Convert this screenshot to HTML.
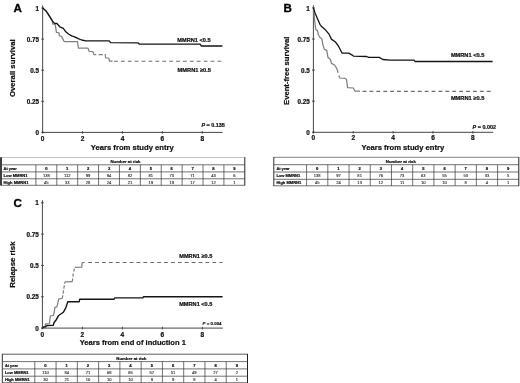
<!DOCTYPE html>
<html><head><meta charset="utf-8"><title>Figure</title>
<style>
html,body{margin:0;padding:0;background:#fff;}
body{width:520px;height:383px;overflow:hidden;}
svg{display:block;font-family:'Liberation Sans', Arial, Helvetica, sans-serif;}
</style></head>
<body>
<svg width="520" height="383" viewBox="0 0 520 383">
<rect x="0" y="0" width="520" height="383" fill="#fff"/>
<line x1="42.65" y1="5.40" x2="42.65" y2="132.90" stroke="#3c3c3c" stroke-width="0.95"/>
<line x1="42.15" y1="132.40" x2="222.70" y2="132.40" stroke="#3c3c3c" stroke-width="0.95"/>
<line x1="41.25" y1="132.40" x2="44.05" y2="132.40" stroke="#3c3c3c" stroke-width="0.9"/>
<text x="39.05" y="135.00" font-size="6.3" text-anchor="end" font-weight="bold" fill="#111" stroke="#111" stroke-width="0.22">0</text>
<line x1="41.25" y1="101.30" x2="44.05" y2="101.30" stroke="#3c3c3c" stroke-width="0.9"/>
<text x="39.05" y="103.90" font-size="6.3" text-anchor="end" font-weight="bold" fill="#111" stroke="#111" stroke-width="0.22">0.25</text>
<line x1="41.25" y1="70.20" x2="44.05" y2="70.20" stroke="#3c3c3c" stroke-width="0.9"/>
<text x="39.05" y="72.80" font-size="6.3" text-anchor="end" font-weight="bold" fill="#111" stroke="#111" stroke-width="0.22">0.5</text>
<line x1="41.25" y1="39.10" x2="44.05" y2="39.10" stroke="#3c3c3c" stroke-width="0.9"/>
<text x="39.05" y="41.70" font-size="6.3" text-anchor="end" font-weight="bold" fill="#111" stroke="#111" stroke-width="0.22">0.75</text>
<line x1="41.25" y1="8.00" x2="44.05" y2="8.00" stroke="#3c3c3c" stroke-width="0.9"/>
<text x="39.05" y="10.60" font-size="6.3" text-anchor="end" font-weight="bold" fill="#111" stroke="#111" stroke-width="0.22">1</text>
<line x1="42.65" y1="131.10" x2="42.65" y2="133.70" stroke="#3c3c3c" stroke-width="0.9"/>
<text x="42.65" y="140.90" font-size="6.5" text-anchor="middle" font-weight="bold" fill="#111" stroke="#111" stroke-width="0.22">0</text>
<line x1="82.55" y1="131.10" x2="82.55" y2="133.70" stroke="#3c3c3c" stroke-width="0.9"/>
<text x="82.55" y="140.90" font-size="6.5" text-anchor="middle" font-weight="bold" fill="#111" stroke="#111" stroke-width="0.22">2</text>
<line x1="122.45" y1="131.10" x2="122.45" y2="133.70" stroke="#3c3c3c" stroke-width="0.9"/>
<text x="122.45" y="140.90" font-size="6.5" text-anchor="middle" font-weight="bold" fill="#111" stroke="#111" stroke-width="0.22">4</text>
<line x1="162.35" y1="131.10" x2="162.35" y2="133.70" stroke="#3c3c3c" stroke-width="0.9"/>
<text x="162.35" y="140.90" font-size="6.5" text-anchor="middle" font-weight="bold" fill="#111" stroke="#111" stroke-width="0.22">6</text>
<line x1="202.25" y1="131.10" x2="202.25" y2="133.70" stroke="#3c3c3c" stroke-width="0.9"/>
<text x="202.25" y="140.90" font-size="6.5" text-anchor="middle" font-weight="bold" fill="#111" stroke="#111" stroke-width="0.22">8</text>
<text x="13.60" y="12.20" font-size="10.8" text-anchor="start" font-weight="bold" fill="#000" stroke="#000" stroke-width="0.3" textLength="8.4" lengthAdjust="spacingAndGlyphs">A</text>
<text x="15.50" y="68.20" font-size="7.7" text-anchor="middle" font-weight="bold" fill="#111" stroke="#111" stroke-width="0.22" textLength="57.8" lengthAdjust="spacingAndGlyphs" transform="rotate(-90 15.50 68.20)">Overall survival</text>
<text x="132.30" y="149.80" font-size="7.7" text-anchor="middle" font-weight="bold" fill="#111" stroke="#111" stroke-width="0.22" textLength="83.0" lengthAdjust="spacingAndGlyphs">Years from study entry</text>
<polyline points="42.6,7.9 45.5,10.4 47.4,12.9 49.9,16.9 52.4,21.2 52.6,24.0 55.2,24.3 55.9,28.8 56.4,32.4 59.0,32.8 59.4,35.9 61.5,36.3 62.5,38.4 64.0,41.3 64.9,41.7 77.5,41.7 78.4,48.1 88.0,48.2 89.1,51.3 92.8,51.5 93.9,54.6 96.2,54.7" fill="none" stroke="#808080" stroke-width="1.25" stroke-linejoin="round"/>
<line x1="98.60" y1="54.60" x2="103.00" y2="54.60" stroke="#808080" stroke-width="1.25"/>
<polyline points="104.6,54.5 105.3,54.5 105.6,57.8 108.7,58.0 109.5,61.2 112.5,61.2" fill="none" stroke="#808080" stroke-width="1.25" stroke-linejoin="round"/>
<line x1="114.00" y1="61.25" x2="222.40" y2="61.25" stroke="#6c6c6c" stroke-width="1.15" stroke-dasharray="3.8 3.1"/>
<polyline points="42.6,7.9 45.5,10.4 47.4,12.9 49.9,16.9 52.4,20.9 54.4,23.3 56.9,23.5 59.8,26.8 63.3,28.3 65.8,31.8 68.8,34.3 71.7,35.9 74.7,36.9 78.2,38.7 81.7,40.0 85.8,40.9 109.2,40.9 110.6,42.7 138.2,42.8 139.2,44.2 200.0,44.2 201.4,46.0 222.4,46.0" fill="none" stroke="#151515" stroke-width="1.3" stroke-linejoin="round"/>
<text x="177.30" y="41.60" font-size="5.7" text-anchor="start" font-weight="bold" fill="#111" stroke="#111" stroke-width="0.22" textLength="33.4" lengthAdjust="spacingAndGlyphs">MMRN1 &lt;0.5</text>
<text x="177.60" y="71.80" font-size="5.7" text-anchor="start" font-weight="bold" fill="#111" stroke="#111" stroke-width="0.22" textLength="33.4" lengthAdjust="spacingAndGlyphs">MMRN1 ≥0.5</text>
<text x="201.4" y="127.2" font-size="5.45" font-weight="bold" fill="#111" stroke="#111" stroke-width="0.2"><tspan font-style="italic">P</tspan> = 0.135</text>
<line x1="1.00" y1="157.50" x2="244.80" y2="157.50" stroke="#b4b4b4" stroke-width="0.8"/>
<line x1="1.00" y1="157.20" x2="1.00" y2="185.60" stroke="#000" stroke-width="1.5"/>
<line x1="244.80" y1="157.20" x2="244.80" y2="185.60" stroke="#222" stroke-width="1.0"/>
<line x1="1.00" y1="164.80" x2="244.80" y2="164.80" stroke="#3a3a3a" stroke-width="0.72"/>
<line x1="1.00" y1="171.90" x2="244.80" y2="171.90" stroke="#3a3a3a" stroke-width="0.72"/>
<line x1="1.00" y1="178.80" x2="244.80" y2="178.80" stroke="#3a3a3a" stroke-width="0.72"/>
<line x1="1.00" y1="185.30" x2="244.80" y2="185.30" stroke="#3a3a3a" stroke-width="0.72"/>
<line x1="35.90" y1="164.80" x2="35.90" y2="185.30" stroke="#3a3a3a" stroke-width="0.72"/>
<line x1="56.79" y1="164.80" x2="56.79" y2="185.30" stroke="#3a3a3a" stroke-width="0.72"/>
<line x1="77.68" y1="164.80" x2="77.68" y2="185.30" stroke="#3a3a3a" stroke-width="0.72"/>
<line x1="98.57" y1="164.80" x2="98.57" y2="185.30" stroke="#3a3a3a" stroke-width="0.72"/>
<line x1="119.46" y1="164.80" x2="119.46" y2="185.30" stroke="#3a3a3a" stroke-width="0.72"/>
<line x1="140.35" y1="164.80" x2="140.35" y2="185.30" stroke="#3a3a3a" stroke-width="0.72"/>
<line x1="161.24" y1="164.80" x2="161.24" y2="185.30" stroke="#3a3a3a" stroke-width="0.72"/>
<line x1="182.13" y1="164.80" x2="182.13" y2="185.30" stroke="#3a3a3a" stroke-width="0.72"/>
<line x1="203.02" y1="164.80" x2="203.02" y2="185.30" stroke="#3a3a3a" stroke-width="0.72"/>
<line x1="223.91" y1="164.80" x2="223.91" y2="185.30" stroke="#3a3a3a" stroke-width="0.72"/>
<text x="125.50" y="162.80" font-size="4.3" text-anchor="middle" font-weight="bold" fill="#111" stroke="#111" stroke-width="0.22" textLength="30.0" lengthAdjust="spacingAndGlyphs">Number at risk</text>
<text x="3.60" y="169.80" font-size="4.1" text-anchor="start" font-weight="bold" fill="#111" stroke="#111" stroke-width="0.22" textLength="13.2" lengthAdjust="spacingAndGlyphs">At year</text>
<text x="3.60" y="176.80" font-size="4.1" text-anchor="start" font-weight="bold" fill="#111" stroke="#111" stroke-width="0.22" textLength="23.8" lengthAdjust="spacingAndGlyphs">Low MMRN1</text>
<text x="3.60" y="183.50" font-size="4.1" text-anchor="start" font-weight="bold" fill="#111" stroke="#111" stroke-width="0.22" textLength="24.8" lengthAdjust="spacingAndGlyphs">High MMRN1</text>
<text x="46.34" y="169.80" font-size="4.1" text-anchor="middle" font-weight="bold" fill="#111" stroke="#111" stroke-width="0.22">0</text>
<text x="46.34" y="176.80" font-size="4.1" text-anchor="middle" font-weight="normal" fill="#222" stroke="#222" stroke-width="0.1">138</text>
<text x="46.34" y="183.50" font-size="4.1" text-anchor="middle" font-weight="normal" fill="#222" stroke="#222" stroke-width="0.1">45</text>
<text x="67.23" y="169.80" font-size="4.1" text-anchor="middle" font-weight="bold" fill="#111" stroke="#111" stroke-width="0.22">1</text>
<text x="67.23" y="176.80" font-size="4.1" text-anchor="middle" font-weight="normal" fill="#222" stroke="#222" stroke-width="0.1">112</text>
<text x="67.23" y="183.50" font-size="4.1" text-anchor="middle" font-weight="normal" fill="#222" stroke="#222" stroke-width="0.1">33</text>
<text x="88.12" y="169.80" font-size="4.1" text-anchor="middle" font-weight="bold" fill="#111" stroke="#111" stroke-width="0.22">2</text>
<text x="88.12" y="176.80" font-size="4.1" text-anchor="middle" font-weight="normal" fill="#222" stroke="#222" stroke-width="0.1">99</text>
<text x="88.12" y="183.50" font-size="4.1" text-anchor="middle" font-weight="normal" fill="#222" stroke="#222" stroke-width="0.1">28</text>
<text x="109.02" y="169.80" font-size="4.1" text-anchor="middle" font-weight="bold" fill="#111" stroke="#111" stroke-width="0.22">3</text>
<text x="109.02" y="176.80" font-size="4.1" text-anchor="middle" font-weight="normal" fill="#222" stroke="#222" stroke-width="0.1">94</text>
<text x="109.02" y="183.50" font-size="4.1" text-anchor="middle" font-weight="normal" fill="#222" stroke="#222" stroke-width="0.1">24</text>
<text x="129.91" y="169.80" font-size="4.1" text-anchor="middle" font-weight="bold" fill="#111" stroke="#111" stroke-width="0.22">4</text>
<text x="129.91" y="176.80" font-size="4.1" text-anchor="middle" font-weight="normal" fill="#222" stroke="#222" stroke-width="0.1">82</text>
<text x="129.91" y="183.50" font-size="4.1" text-anchor="middle" font-weight="normal" fill="#222" stroke="#222" stroke-width="0.1">21</text>
<text x="150.80" y="169.80" font-size="4.1" text-anchor="middle" font-weight="bold" fill="#111" stroke="#111" stroke-width="0.22">5</text>
<text x="150.80" y="176.80" font-size="4.1" text-anchor="middle" font-weight="normal" fill="#222" stroke="#222" stroke-width="0.1">81</text>
<text x="150.80" y="183.50" font-size="4.1" text-anchor="middle" font-weight="normal" fill="#222" stroke="#222" stroke-width="0.1">19</text>
<text x="171.69" y="169.80" font-size="4.1" text-anchor="middle" font-weight="bold" fill="#111" stroke="#111" stroke-width="0.22">6</text>
<text x="171.69" y="176.80" font-size="4.1" text-anchor="middle" font-weight="normal" fill="#222" stroke="#222" stroke-width="0.1">73</text>
<text x="171.69" y="183.50" font-size="4.1" text-anchor="middle" font-weight="normal" fill="#222" stroke="#222" stroke-width="0.1">19</text>
<text x="192.58" y="169.80" font-size="4.1" text-anchor="middle" font-weight="bold" fill="#111" stroke="#111" stroke-width="0.22">7</text>
<text x="192.58" y="176.80" font-size="4.1" text-anchor="middle" font-weight="normal" fill="#222" stroke="#222" stroke-width="0.1">71</text>
<text x="192.58" y="183.50" font-size="4.1" text-anchor="middle" font-weight="normal" fill="#222" stroke="#222" stroke-width="0.1">17</text>
<text x="213.47" y="169.80" font-size="4.1" text-anchor="middle" font-weight="bold" fill="#111" stroke="#111" stroke-width="0.22">8</text>
<text x="213.47" y="176.80" font-size="4.1" text-anchor="middle" font-weight="normal" fill="#222" stroke="#222" stroke-width="0.1">43</text>
<text x="213.47" y="183.50" font-size="4.1" text-anchor="middle" font-weight="normal" fill="#222" stroke="#222" stroke-width="0.1">12</text>
<text x="234.36" y="169.80" font-size="4.1" text-anchor="middle" font-weight="bold" fill="#111" stroke="#111" stroke-width="0.22">9</text>
<text x="234.36" y="176.80" font-size="4.1" text-anchor="middle" font-weight="normal" fill="#222" stroke="#222" stroke-width="0.1">6</text>
<text x="234.36" y="183.50" font-size="4.1" text-anchor="middle" font-weight="normal" fill="#222" stroke="#222" stroke-width="0.1">1</text>
<line x1="313.40" y1="5.30" x2="313.40" y2="132.80" stroke="#3c3c3c" stroke-width="0.95"/>
<line x1="312.90" y1="132.30" x2="493.27" y2="132.30" stroke="#3c3c3c" stroke-width="0.95"/>
<line x1="312.00" y1="132.30" x2="314.80" y2="132.30" stroke="#3c3c3c" stroke-width="0.9"/>
<text x="309.80" y="134.90" font-size="6.3" text-anchor="end" font-weight="bold" fill="#111" stroke="#111" stroke-width="0.22">0</text>
<line x1="312.00" y1="101.20" x2="314.80" y2="101.20" stroke="#3c3c3c" stroke-width="0.9"/>
<text x="309.80" y="103.80" font-size="6.3" text-anchor="end" font-weight="bold" fill="#111" stroke="#111" stroke-width="0.22">0.25</text>
<line x1="312.00" y1="70.10" x2="314.80" y2="70.10" stroke="#3c3c3c" stroke-width="0.9"/>
<text x="309.80" y="72.70" font-size="6.3" text-anchor="end" font-weight="bold" fill="#111" stroke="#111" stroke-width="0.22">0.5</text>
<line x1="312.00" y1="39.00" x2="314.80" y2="39.00" stroke="#3c3c3c" stroke-width="0.9"/>
<text x="309.80" y="41.60" font-size="6.3" text-anchor="end" font-weight="bold" fill="#111" stroke="#111" stroke-width="0.22">0.75</text>
<line x1="312.00" y1="7.90" x2="314.80" y2="7.90" stroke="#3c3c3c" stroke-width="0.9"/>
<text x="309.80" y="10.50" font-size="6.3" text-anchor="end" font-weight="bold" fill="#111" stroke="#111" stroke-width="0.22">1</text>
<line x1="313.40" y1="131.00" x2="313.40" y2="133.60" stroke="#3c3c3c" stroke-width="0.9"/>
<text x="313.40" y="140.40" font-size="6.5" text-anchor="middle" font-weight="bold" fill="#111" stroke="#111" stroke-width="0.22">0</text>
<line x1="353.26" y1="131.00" x2="353.26" y2="133.60" stroke="#3c3c3c" stroke-width="0.9"/>
<text x="353.26" y="140.40" font-size="6.5" text-anchor="middle" font-weight="bold" fill="#111" stroke="#111" stroke-width="0.22">2</text>
<line x1="393.12" y1="131.00" x2="393.12" y2="133.60" stroke="#3c3c3c" stroke-width="0.9"/>
<text x="393.12" y="140.40" font-size="6.5" text-anchor="middle" font-weight="bold" fill="#111" stroke="#111" stroke-width="0.22">4</text>
<line x1="432.98" y1="131.00" x2="432.98" y2="133.60" stroke="#3c3c3c" stroke-width="0.9"/>
<text x="432.98" y="140.40" font-size="6.5" text-anchor="middle" font-weight="bold" fill="#111" stroke="#111" stroke-width="0.22">6</text>
<line x1="472.84" y1="131.00" x2="472.84" y2="133.60" stroke="#3c3c3c" stroke-width="0.9"/>
<text x="472.84" y="140.40" font-size="6.5" text-anchor="middle" font-weight="bold" fill="#111" stroke="#111" stroke-width="0.22">8</text>
<text x="283.60" y="12.20" font-size="10.8" text-anchor="start" font-weight="bold" fill="#000" stroke="#000" stroke-width="0.3" textLength="8.4" lengthAdjust="spacingAndGlyphs">B</text>
<text x="289.20" y="70.70" font-size="7.7" text-anchor="middle" font-weight="bold" fill="#111" stroke="#111" stroke-width="0.22" textLength="68.4" lengthAdjust="spacingAndGlyphs" transform="rotate(-90 289.20 70.70)">Event-free survival</text>
<text x="402.90" y="149.80" font-size="7.7" text-anchor="middle" font-weight="bold" fill="#111" stroke="#111" stroke-width="0.22" textLength="82.6" lengthAdjust="spacingAndGlyphs">Years from study entry</text>
<polyline points="313.6,8.5 314.5,18.9 315.5,27.8 316.0,29.8 317.4,30.3 318.4,34.8 319.8,37.2 322.0,39.1 322.8,44.6 324.4,49.4 326.8,50.4 327.9,57.2 330.4,59.5 331.5,63.4 334.6,65.0 336.9,68.9 338.2,72.8" fill="none" stroke="#808080" stroke-width="1.25" stroke-linejoin="round"/>
<polyline points="338.7,75.6 340.0,78.0 344.8,78.3 346.4,79.2 347.6,87.7 353.4,88.0 355.0,91.2 360.0,91.2" fill="none" stroke="#808080" stroke-width="1.25" stroke-linejoin="round"/>
<line x1="362.60" y1="91.30" x2="492.60" y2="91.30" stroke="#6c6c6c" stroke-width="1.15" stroke-dasharray="3.8 3.1"/>
<polyline points="313.5,7.9 315.0,12.9 317.4,18.4 319.9,24.3 321.9,26.8 325.4,29.8 328.8,33.8 331.4,39.1 335.4,42.0 338.5,46.2 342.0,53.0 348.7,53.2 351.8,54.8 353.4,56.1 366.6,56.5 368.7,57.3 379.3,57.4 382.8,59.5 390.0,60.1 414.0,60.1 415.2,61.5 492.6,61.5" fill="none" stroke="#151515" stroke-width="1.3" stroke-linejoin="round"/>
<text x="450.90" y="57.20" font-size="5.7" text-anchor="start" font-weight="bold" fill="#111" stroke="#111" stroke-width="0.22" textLength="33.4" lengthAdjust="spacingAndGlyphs">MMRN1 &lt;0.5</text>
<text x="450.90" y="99.60" font-size="5.7" text-anchor="start" font-weight="bold" fill="#111" stroke="#111" stroke-width="0.22" textLength="33.4" lengthAdjust="spacingAndGlyphs">MMRN1 ≥0.5</text>
<text x="472.6" y="129.0" font-size="5.45" font-weight="bold" fill="#111" stroke="#111" stroke-width="0.2"><tspan font-style="italic">P</tspan> = 0.002</text>
<line x1="273.80" y1="157.30" x2="518.80" y2="157.30" stroke="#666" stroke-width="0.8"/>
<line x1="273.80" y1="157.00" x2="273.80" y2="186.10" stroke="#333" stroke-width="1.0"/>
<line x1="518.80" y1="157.00" x2="518.80" y2="186.10" stroke="#222" stroke-width="1.0"/>
<line x1="273.80" y1="164.70" x2="518.80" y2="164.70" stroke="#3a3a3a" stroke-width="0.72"/>
<line x1="273.80" y1="172.00" x2="518.80" y2="172.00" stroke="#3a3a3a" stroke-width="0.72"/>
<line x1="273.80" y1="179.30" x2="518.80" y2="179.30" stroke="#3a3a3a" stroke-width="0.72"/>
<line x1="273.80" y1="185.80" x2="518.80" y2="185.80" stroke="#3a3a3a" stroke-width="0.72"/>
<line x1="306.60" y1="164.70" x2="306.60" y2="185.80" stroke="#3a3a3a" stroke-width="0.72"/>
<line x1="327.82" y1="164.70" x2="327.82" y2="185.80" stroke="#3a3a3a" stroke-width="0.72"/>
<line x1="349.04" y1="164.70" x2="349.04" y2="185.80" stroke="#3a3a3a" stroke-width="0.72"/>
<line x1="370.26" y1="164.70" x2="370.26" y2="185.80" stroke="#3a3a3a" stroke-width="0.72"/>
<line x1="391.48" y1="164.70" x2="391.48" y2="185.80" stroke="#3a3a3a" stroke-width="0.72"/>
<line x1="412.70" y1="164.70" x2="412.70" y2="185.80" stroke="#3a3a3a" stroke-width="0.72"/>
<line x1="433.92" y1="164.70" x2="433.92" y2="185.80" stroke="#3a3a3a" stroke-width="0.72"/>
<line x1="455.14" y1="164.70" x2="455.14" y2="185.80" stroke="#3a3a3a" stroke-width="0.72"/>
<line x1="476.36" y1="164.70" x2="476.36" y2="185.80" stroke="#3a3a3a" stroke-width="0.72"/>
<line x1="497.58" y1="164.70" x2="497.58" y2="185.80" stroke="#3a3a3a" stroke-width="0.72"/>
<text x="400.80" y="162.65" font-size="4.3" text-anchor="middle" font-weight="bold" fill="#111" stroke="#111" stroke-width="0.22" textLength="30.0" lengthAdjust="spacingAndGlyphs">Number at risk</text>
<text x="276.40" y="169.80" font-size="4.1" text-anchor="start" font-weight="bold" fill="#111" stroke="#111" stroke-width="0.22" textLength="13.2" lengthAdjust="spacingAndGlyphs">At year</text>
<text x="276.40" y="177.10" font-size="4.1" text-anchor="start" font-weight="bold" fill="#111" stroke="#111" stroke-width="0.22" textLength="23.8" lengthAdjust="spacingAndGlyphs">Low MMRN1</text>
<text x="276.40" y="184.00" font-size="4.1" text-anchor="start" font-weight="bold" fill="#111" stroke="#111" stroke-width="0.22" textLength="24.8" lengthAdjust="spacingAndGlyphs">High MMRN1</text>
<text x="317.21" y="169.80" font-size="4.1" text-anchor="middle" font-weight="bold" fill="#111" stroke="#111" stroke-width="0.22">0</text>
<text x="317.21" y="177.10" font-size="4.1" text-anchor="middle" font-weight="normal" fill="#222" stroke="#222" stroke-width="0.1">138</text>
<text x="317.21" y="184.00" font-size="4.1" text-anchor="middle" font-weight="normal" fill="#222" stroke="#222" stroke-width="0.1">45</text>
<text x="338.43" y="169.80" font-size="4.1" text-anchor="middle" font-weight="bold" fill="#111" stroke="#111" stroke-width="0.22">1</text>
<text x="338.43" y="177.10" font-size="4.1" text-anchor="middle" font-weight="normal" fill="#222" stroke="#222" stroke-width="0.1">97</text>
<text x="338.43" y="184.00" font-size="4.1" text-anchor="middle" font-weight="normal" fill="#222" stroke="#222" stroke-width="0.1">24</text>
<text x="359.65" y="169.80" font-size="4.1" text-anchor="middle" font-weight="bold" fill="#111" stroke="#111" stroke-width="0.22">2</text>
<text x="359.65" y="177.10" font-size="4.1" text-anchor="middle" font-weight="normal" fill="#222" stroke="#222" stroke-width="0.1">81</text>
<text x="359.65" y="184.00" font-size="4.1" text-anchor="middle" font-weight="normal" fill="#222" stroke="#222" stroke-width="0.1">13</text>
<text x="380.87" y="169.80" font-size="4.1" text-anchor="middle" font-weight="bold" fill="#111" stroke="#111" stroke-width="0.22">3</text>
<text x="380.87" y="177.10" font-size="4.1" text-anchor="middle" font-weight="normal" fill="#222" stroke="#222" stroke-width="0.1">76</text>
<text x="380.87" y="184.00" font-size="4.1" text-anchor="middle" font-weight="normal" fill="#222" stroke="#222" stroke-width="0.1">12</text>
<text x="402.09" y="169.80" font-size="4.1" text-anchor="middle" font-weight="bold" fill="#111" stroke="#111" stroke-width="0.22">4</text>
<text x="402.09" y="177.10" font-size="4.1" text-anchor="middle" font-weight="normal" fill="#222" stroke="#222" stroke-width="0.1">73</text>
<text x="402.09" y="184.00" font-size="4.1" text-anchor="middle" font-weight="normal" fill="#222" stroke="#222" stroke-width="0.1">11</text>
<text x="423.31" y="169.80" font-size="4.1" text-anchor="middle" font-weight="bold" fill="#111" stroke="#111" stroke-width="0.22">5</text>
<text x="423.31" y="177.10" font-size="4.1" text-anchor="middle" font-weight="normal" fill="#222" stroke="#222" stroke-width="0.1">63</text>
<text x="423.31" y="184.00" font-size="4.1" text-anchor="middle" font-weight="normal" fill="#222" stroke="#222" stroke-width="0.1">10</text>
<text x="444.53" y="169.80" font-size="4.1" text-anchor="middle" font-weight="bold" fill="#111" stroke="#111" stroke-width="0.22">6</text>
<text x="444.53" y="177.10" font-size="4.1" text-anchor="middle" font-weight="normal" fill="#222" stroke="#222" stroke-width="0.1">55</text>
<text x="444.53" y="184.00" font-size="4.1" text-anchor="middle" font-weight="normal" fill="#222" stroke="#222" stroke-width="0.1">10</text>
<text x="465.75" y="169.80" font-size="4.1" text-anchor="middle" font-weight="bold" fill="#111" stroke="#111" stroke-width="0.22">7</text>
<text x="465.75" y="177.10" font-size="4.1" text-anchor="middle" font-weight="normal" fill="#222" stroke="#222" stroke-width="0.1">53</text>
<text x="465.75" y="184.00" font-size="4.1" text-anchor="middle" font-weight="normal" fill="#222" stroke="#222" stroke-width="0.1">8</text>
<text x="486.97" y="169.80" font-size="4.1" text-anchor="middle" font-weight="bold" fill="#111" stroke="#111" stroke-width="0.22">8</text>
<text x="486.97" y="177.10" font-size="4.1" text-anchor="middle" font-weight="normal" fill="#222" stroke="#222" stroke-width="0.1">33</text>
<text x="486.97" y="184.00" font-size="4.1" text-anchor="middle" font-weight="normal" fill="#222" stroke="#222" stroke-width="0.1">4</text>
<text x="508.19" y="169.80" font-size="4.1" text-anchor="middle" font-weight="bold" fill="#111" stroke="#111" stroke-width="0.22">9</text>
<text x="508.19" y="177.10" font-size="4.1" text-anchor="middle" font-weight="normal" fill="#222" stroke="#222" stroke-width="0.1">5</text>
<text x="508.19" y="184.00" font-size="4.1" text-anchor="middle" font-weight="normal" fill="#222" stroke="#222" stroke-width="0.1">1</text>
<line x1="42.40" y1="200.20" x2="42.40" y2="328.60" stroke="#3c3c3c" stroke-width="0.95"/>
<line x1="41.90" y1="328.10" x2="222.90" y2="328.10" stroke="#3c3c3c" stroke-width="0.95"/>
<line x1="41.00" y1="328.10" x2="43.80" y2="328.10" stroke="#3c3c3c" stroke-width="0.9"/>
<text x="38.80" y="330.70" font-size="6.3" text-anchor="end" font-weight="bold" fill="#111" stroke="#111" stroke-width="0.22">0</text>
<line x1="41.00" y1="296.78" x2="43.80" y2="296.78" stroke="#3c3c3c" stroke-width="0.9"/>
<text x="38.80" y="299.38" font-size="6.3" text-anchor="end" font-weight="bold" fill="#111" stroke="#111" stroke-width="0.22">0.25</text>
<line x1="41.00" y1="265.45" x2="43.80" y2="265.45" stroke="#3c3c3c" stroke-width="0.9"/>
<text x="38.80" y="268.05" font-size="6.3" text-anchor="end" font-weight="bold" fill="#111" stroke="#111" stroke-width="0.22">0.5</text>
<line x1="41.00" y1="234.12" x2="43.80" y2="234.12" stroke="#3c3c3c" stroke-width="0.9"/>
<text x="38.80" y="236.72" font-size="6.3" text-anchor="end" font-weight="bold" fill="#111" stroke="#111" stroke-width="0.22">0.75</text>
<line x1="41.00" y1="202.80" x2="43.80" y2="202.80" stroke="#3c3c3c" stroke-width="0.9"/>
<text x="38.80" y="205.40" font-size="6.3" text-anchor="end" font-weight="bold" fill="#111" stroke="#111" stroke-width="0.22">1</text>
<line x1="42.40" y1="326.80" x2="42.40" y2="329.40" stroke="#3c3c3c" stroke-width="0.9"/>
<text x="42.40" y="336.50" font-size="6.5" text-anchor="middle" font-weight="bold" fill="#111" stroke="#111" stroke-width="0.22">0</text>
<line x1="82.40" y1="326.80" x2="82.40" y2="329.40" stroke="#3c3c3c" stroke-width="0.9"/>
<text x="82.40" y="336.50" font-size="6.5" text-anchor="middle" font-weight="bold" fill="#111" stroke="#111" stroke-width="0.22">2</text>
<line x1="122.40" y1="326.80" x2="122.40" y2="329.40" stroke="#3c3c3c" stroke-width="0.9"/>
<text x="122.40" y="336.50" font-size="6.5" text-anchor="middle" font-weight="bold" fill="#111" stroke="#111" stroke-width="0.22">4</text>
<line x1="162.40" y1="326.80" x2="162.40" y2="329.40" stroke="#3c3c3c" stroke-width="0.9"/>
<text x="162.40" y="336.50" font-size="6.5" text-anchor="middle" font-weight="bold" fill="#111" stroke="#111" stroke-width="0.22">6</text>
<line x1="202.40" y1="326.80" x2="202.40" y2="329.40" stroke="#3c3c3c" stroke-width="0.9"/>
<text x="202.40" y="336.50" font-size="6.5" text-anchor="middle" font-weight="bold" fill="#111" stroke="#111" stroke-width="0.22">8</text>
<text x="13.60" y="207.20" font-size="10.8" text-anchor="start" font-weight="bold" fill="#000" stroke="#000" stroke-width="0.3" textLength="8.4" lengthAdjust="spacingAndGlyphs">C</text>
<text x="14.80" y="264.60" font-size="7.7" text-anchor="middle" font-weight="bold" fill="#111" stroke="#111" stroke-width="0.22" textLength="46.2" lengthAdjust="spacingAndGlyphs" transform="rotate(-90 14.80 264.60)">Relapse risk</text>
<text x="132.80" y="345.10" font-size="7.7" text-anchor="middle" font-weight="bold" fill="#111" stroke="#111" stroke-width="0.22" textLength="106.2" lengthAdjust="spacingAndGlyphs">Years from end of induction 1</text>
<polyline points="42.6,327.2 45.0,326.7 45.5,323.9 49.4,323.5 50.4,315.8 53.4,315.5 54.4,310.8 54.9,307.4 56.9,306.9 57.9,302.9 58.8,298.9 62.3,298.5" fill="none" stroke="#808080" stroke-width="1.25" stroke-linejoin="round"/>
<polyline points="62.3,298.5 64.9,281.8" fill="none" stroke="#808080" stroke-width="1.25" stroke-linejoin="round" stroke-dasharray="3.2 1.8"/>
<polyline points="64.9,281.8 72.3,281.6" fill="none" stroke="#808080" stroke-width="1.25" stroke-linejoin="round"/>
<polyline points="72.3,281.6 73.3,273.4 74.8,267.4" fill="none" stroke="#808080" stroke-width="1.25" stroke-linejoin="round" stroke-dasharray="3.2 1.8"/>
<polyline points="74.8,267.4 81.7,267.1 82.2,262.6 84.8,262.5" fill="none" stroke="#808080" stroke-width="1.25" stroke-linejoin="round"/>
<line x1="88.20" y1="262.50" x2="222.60" y2="262.50" stroke="#6c6c6c" stroke-width="1.15" stroke-dasharray="3.8 3.1"/>
<polyline points="42.6,327.2 45.5,326.9 46.9,325.5 53.4,325.2 53.9,322.8 55.9,320.3 58.4,315.8 63.3,312.3 65.8,307.9 67.8,301.8 79.2,301.7 79.7,299.2 114.0,299.2 114.8,297.9 142.8,297.9 143.6,296.7 222.6,296.7" fill="none" stroke="#151515" stroke-width="1.4" stroke-linejoin="round"/>
<text x="179.20" y="258.00" font-size="5.7" text-anchor="start" font-weight="bold" fill="#111" stroke="#111" stroke-width="0.22" textLength="33.2" lengthAdjust="spacingAndGlyphs">MMRN1 ≥0.5</text>
<text x="179.20" y="305.90" font-size="5.7" text-anchor="start" font-weight="bold" fill="#111" stroke="#111" stroke-width="0.22" textLength="33.2" lengthAdjust="spacingAndGlyphs">MMRN1 &lt;0.5</text>
<text x="202.6" y="324.8" font-size="4.4" font-weight="bold" fill="#111" stroke="#111" stroke-width="0.15"><tspan font-style="italic">P</tspan> = 0.004</text>
<line x1="2.30" y1="354.20" x2="247.50" y2="354.20" stroke="#333" stroke-width="0.8"/>
<line x1="2.30" y1="353.90" x2="2.30" y2="383.00" stroke="#333" stroke-width="1.0"/>
<line x1="247.50" y1="353.90" x2="247.50" y2="383.00" stroke="#222" stroke-width="1.0"/>
<line x1="2.30" y1="361.60" x2="247.50" y2="361.60" stroke="#3a3a3a" stroke-width="0.72"/>
<line x1="2.30" y1="368.90" x2="247.50" y2="368.90" stroke="#3a3a3a" stroke-width="0.72"/>
<line x1="2.30" y1="376.20" x2="247.50" y2="376.20" stroke="#3a3a3a" stroke-width="0.72"/>
<line x1="2.30" y1="382.70" x2="247.50" y2="382.70" stroke="#3a3a3a" stroke-width="0.72"/>
<line x1="34.80" y1="361.60" x2="34.80" y2="382.70" stroke="#3a3a3a" stroke-width="0.72"/>
<line x1="56.07" y1="361.60" x2="56.07" y2="382.70" stroke="#3a3a3a" stroke-width="0.72"/>
<line x1="77.34" y1="361.60" x2="77.34" y2="382.70" stroke="#3a3a3a" stroke-width="0.72"/>
<line x1="98.61" y1="361.60" x2="98.61" y2="382.70" stroke="#3a3a3a" stroke-width="0.72"/>
<line x1="119.88" y1="361.60" x2="119.88" y2="382.70" stroke="#3a3a3a" stroke-width="0.72"/>
<line x1="141.15" y1="361.60" x2="141.15" y2="382.70" stroke="#3a3a3a" stroke-width="0.72"/>
<line x1="162.42" y1="361.60" x2="162.42" y2="382.70" stroke="#3a3a3a" stroke-width="0.72"/>
<line x1="183.69" y1="361.60" x2="183.69" y2="382.70" stroke="#3a3a3a" stroke-width="0.72"/>
<line x1="204.96" y1="361.60" x2="204.96" y2="382.70" stroke="#3a3a3a" stroke-width="0.72"/>
<line x1="226.23" y1="361.60" x2="226.23" y2="382.70" stroke="#3a3a3a" stroke-width="0.72"/>
<text x="131.30" y="359.55" font-size="4.3" text-anchor="middle" font-weight="bold" fill="#111" stroke="#111" stroke-width="0.22" textLength="30.0" lengthAdjust="spacingAndGlyphs">Number at risk</text>
<text x="4.90" y="366.70" font-size="4.1" text-anchor="start" font-weight="bold" fill="#111" stroke="#111" stroke-width="0.22" textLength="13.2" lengthAdjust="spacingAndGlyphs">At year</text>
<text x="4.90" y="374.00" font-size="4.1" text-anchor="start" font-weight="bold" fill="#111" stroke="#111" stroke-width="0.22" textLength="23.8" lengthAdjust="spacingAndGlyphs">Low MMRN1</text>
<text x="4.90" y="380.90" font-size="4.1" text-anchor="start" font-weight="bold" fill="#111" stroke="#111" stroke-width="0.22" textLength="24.8" lengthAdjust="spacingAndGlyphs">High MMRN1</text>
<text x="45.43" y="366.70" font-size="4.1" text-anchor="middle" font-weight="bold" fill="#111" stroke="#111" stroke-width="0.22">0</text>
<text x="45.43" y="374.00" font-size="4.1" text-anchor="middle" font-weight="normal" fill="#222" stroke="#222" stroke-width="0.1">110</text>
<text x="45.43" y="380.90" font-size="4.1" text-anchor="middle" font-weight="normal" fill="#222" stroke="#222" stroke-width="0.1">30</text>
<text x="66.70" y="366.70" font-size="4.1" text-anchor="middle" font-weight="bold" fill="#111" stroke="#111" stroke-width="0.22">1</text>
<text x="66.70" y="374.00" font-size="4.1" text-anchor="middle" font-weight="normal" fill="#222" stroke="#222" stroke-width="0.1">84</text>
<text x="66.70" y="380.90" font-size="4.1" text-anchor="middle" font-weight="normal" fill="#222" stroke="#222" stroke-width="0.1">21</text>
<text x="87.97" y="366.70" font-size="4.1" text-anchor="middle" font-weight="bold" fill="#111" stroke="#111" stroke-width="0.22">2</text>
<text x="87.97" y="374.00" font-size="4.1" text-anchor="middle" font-weight="normal" fill="#222" stroke="#222" stroke-width="0.1">71</text>
<text x="87.97" y="380.90" font-size="4.1" text-anchor="middle" font-weight="normal" fill="#222" stroke="#222" stroke-width="0.1">10</text>
<text x="109.24" y="366.70" font-size="4.1" text-anchor="middle" font-weight="bold" fill="#111" stroke="#111" stroke-width="0.22">3</text>
<text x="109.24" y="374.00" font-size="4.1" text-anchor="middle" font-weight="normal" fill="#222" stroke="#222" stroke-width="0.1">68</text>
<text x="109.24" y="380.90" font-size="4.1" text-anchor="middle" font-weight="normal" fill="#222" stroke="#222" stroke-width="0.1">10</text>
<text x="130.51" y="366.70" font-size="4.1" text-anchor="middle" font-weight="bold" fill="#111" stroke="#111" stroke-width="0.22">4</text>
<text x="130.51" y="374.00" font-size="4.1" text-anchor="middle" font-weight="normal" fill="#222" stroke="#222" stroke-width="0.1">65</text>
<text x="130.51" y="380.90" font-size="4.1" text-anchor="middle" font-weight="normal" fill="#222" stroke="#222" stroke-width="0.1">10</text>
<text x="151.78" y="366.70" font-size="4.1" text-anchor="middle" font-weight="bold" fill="#111" stroke="#111" stroke-width="0.22">5</text>
<text x="151.78" y="374.00" font-size="4.1" text-anchor="middle" font-weight="normal" fill="#222" stroke="#222" stroke-width="0.1">57</text>
<text x="151.78" y="380.90" font-size="4.1" text-anchor="middle" font-weight="normal" fill="#222" stroke="#222" stroke-width="0.1">9</text>
<text x="173.06" y="366.70" font-size="4.1" text-anchor="middle" font-weight="bold" fill="#111" stroke="#111" stroke-width="0.22">6</text>
<text x="173.06" y="374.00" font-size="4.1" text-anchor="middle" font-weight="normal" fill="#222" stroke="#222" stroke-width="0.1">51</text>
<text x="173.06" y="380.90" font-size="4.1" text-anchor="middle" font-weight="normal" fill="#222" stroke="#222" stroke-width="0.1">9</text>
<text x="194.32" y="366.70" font-size="4.1" text-anchor="middle" font-weight="bold" fill="#111" stroke="#111" stroke-width="0.22">7</text>
<text x="194.32" y="374.00" font-size="4.1" text-anchor="middle" font-weight="normal" fill="#222" stroke="#222" stroke-width="0.1">49</text>
<text x="194.32" y="380.90" font-size="4.1" text-anchor="middle" font-weight="normal" fill="#222" stroke="#222" stroke-width="0.1">8</text>
<text x="215.59" y="366.70" font-size="4.1" text-anchor="middle" font-weight="bold" fill="#111" stroke="#111" stroke-width="0.22">8</text>
<text x="215.59" y="374.00" font-size="4.1" text-anchor="middle" font-weight="normal" fill="#222" stroke="#222" stroke-width="0.1">27</text>
<text x="215.59" y="380.90" font-size="4.1" text-anchor="middle" font-weight="normal" fill="#222" stroke="#222" stroke-width="0.1">4</text>
<text x="236.87" y="366.70" font-size="4.1" text-anchor="middle" font-weight="bold" fill="#111" stroke="#111" stroke-width="0.22">9</text>
<text x="236.87" y="374.00" font-size="4.1" text-anchor="middle" font-weight="normal" fill="#222" stroke="#222" stroke-width="0.1">2</text>
<text x="236.87" y="380.90" font-size="4.1" text-anchor="middle" font-weight="normal" fill="#222" stroke="#222" stroke-width="0.1">1</text>
</svg>
</body></html>
